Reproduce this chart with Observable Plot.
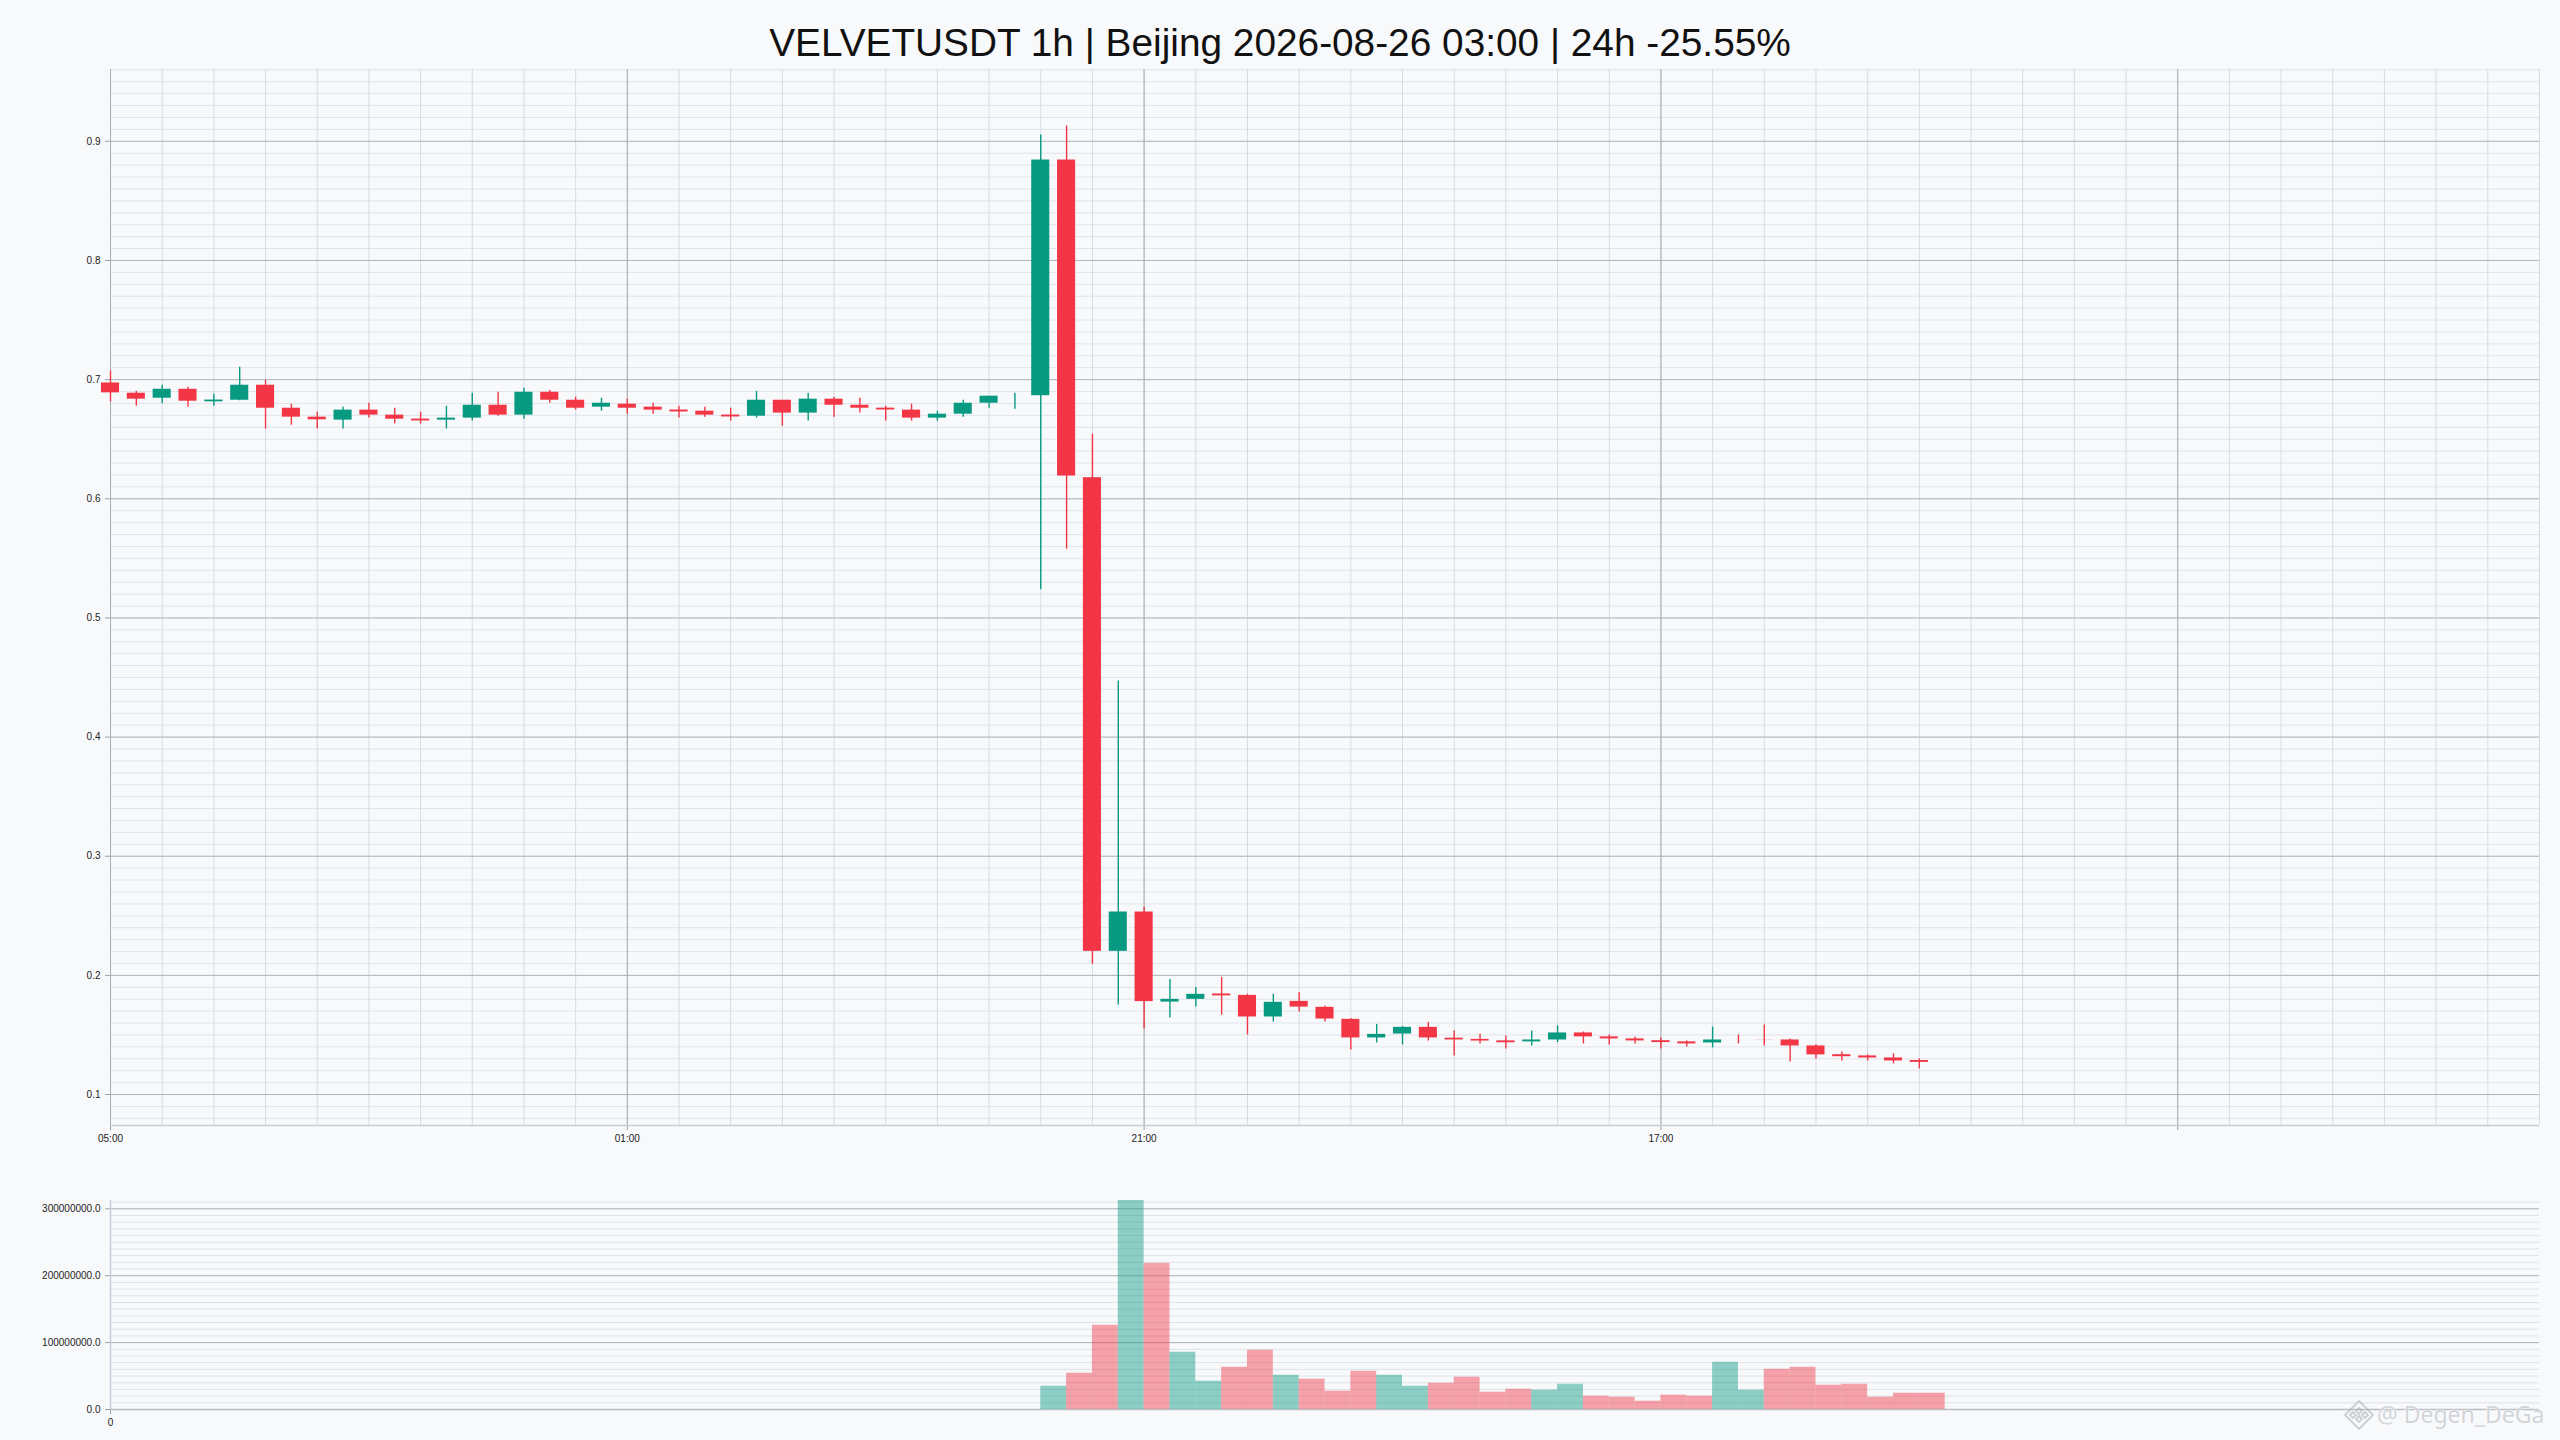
<!DOCTYPE html>
<html>
<head>
<meta charset="utf-8">
<script src="https://cdn.jsdelivr.net/npm/d3@7"></script>
<script src="https://cdn.jsdelivr.net/npm/@observablehq/plot@0.6"></script>
<style>
  html, body { margin: 0; padding: 0; background: #f8f9fb; }
  #wrap { position: relative; width: 2560px; height: 1440px; overflow: hidden; background: #f8f9fb; font-family: "Liberation Sans", Arial, sans-serif; }
  #title { position: absolute; left: 0; top: 24px; width: 2560px; text-align: center; font-size: 38.8px; line-height: 38px; color: #111; z-index: 2; }
  #main { position: absolute; left: 0; top: 59px; }
  #vol { position: absolute; left: 0; top: 1160px; }
  #wm { position: absolute; left: 2377px; top: 1403px; font-family: "Noto Sans", "Open Sans", sans-serif; font-size: 23px; line-height: 23px; color: rgba(170,176,184,0.55); text-shadow: 0 0 1px #fff, 0 0 2px #fff; white-space: nowrap; z-index: 3; }
  #wmlogo { position: absolute; left: 2343px; top: 1399px; z-index: 3; }
</style>
</head>
<body>
<div id="wrap">
  <div id="title">VELVETUSDT 1h | Beijing 2026-08-26 03:00 | 24h -25.55%</div>
  <div id="main"></div>
  <div id="vol"></div>
  <svg id="wmlogo" width="32" height="32" viewBox="0 0 32 32">
    <g fill="none" stroke="rgba(170,176,184,0.6)" stroke-width="1.8">
      <path d="M16 2 L30 16 L16 30 L2 16 Z"/>
      <path d="M16 9 L19 12 L16 15 L13 12 Z"/>
      <path d="M16 17 L19 20 L16 23 L13 20 Z"/>
      <path d="M10 13 L13 16 L10 19 L7 16 Z"/>
      <path d="M22 13 L25 16 L22 19 L19 16 Z"/>
    </g>
  </svg>
  <div id="wm">@ Degen_DeGa</div>
</div>
<script>
// ---- data (hourly candles, Beijing time, first candle 2026-08-23 05:00) ----
const opens = [
  0.6972,0.6886,0.6844,0.6919,0.6822,0.6827,0.6953,0.6760,0.6685,0.6660,
  0.6744,0.6702,0.6668,0.6660,0.6677,0.6785,0.6702,0.6894,0.6827,0.6769,
  0.6794,0.6769,0.6744,0.6735,0.6702,0.6693,0.6827,0.6719,0.6836,0.6785,
  0.6760,0.6744,0.6677,0.6710,0.6802,0.6861,0.6865,0.8843,0.6177,0.2202,
  0.2532,0.1776,0.1799,0.1843,0.1832,0.1651,0.1782,0.1732,0.1631,0.1475,
  0.1508,0.1564,0.1472,0.1463,0.1449,0.1442,0.1458,0.1517,0.1484,0.1467,
  0.1450,0.1442,0.1433,0.1460,0.1461,0.1458,0.1408,0.1333,0.1324,0.1307,
  0.1285
];
const highs = [
  0.7072,0.6902,0.6953,0.6936,0.6877,0.7103,0.6994,0.6794,0.6727,0.6769,
  0.6802,0.6760,0.6727,0.6777,0.6886,0.6894,0.6928,0.6908,0.6852,0.6844,
  0.6836,0.6802,0.6777,0.6769,0.6760,0.6902,0.6827,0.6886,0.6852,0.6844,
  0.6777,0.6794,0.6735,0.6827,0.6861,0.6886,0.9054,0.9128,0.6541,0.4470,
  0.2571,0.1966,0.1899,0.1983,0.1841,0.1841,0.1857,0.1740,0.1639,0.1589,
  0.1572,0.1606,0.1533,0.1505,0.1492,0.1534,0.1576,0.1525,0.1500,0.1484,
  0.1475,0.1450,0.1567,0.1500,0.1584,0.1467,0.1417,0.1358,0.1333,0.1341,
  0.1299
];
const lows = [
  0.6813,0.6777,0.6797,0.6769,0.6777,0.6822,0.6585,0.6618,0.6585,0.6585,
  0.6677,0.6627,0.6627,0.6585,0.6652,0.6693,0.6668,0.6802,0.6744,0.6735,
  0.6710,0.6710,0.6677,0.6685,0.6652,0.6677,0.6610,0.6652,0.6685,0.6719,
  0.6652,0.6652,0.6652,0.6685,0.6760,0.6752,0.5237,0.5577,0.2094,0.1751,
  0.1550,0.1642,0.1734,0.1667,0.1500,0.1609,0.1693,0.1609,0.1374,0.1433,
  0.1416,0.1449,0.1324,0.1424,0.1383,0.1408,0.1436,0.1425,0.1416,0.1425,
  0.1383,0.1400,0.1391,0.1425,0.1408,0.1274,0.1299,0.1281,0.1282,0.1257,
  0.1215
];
const closes = [
  0.6889,0.6836,0.6919,0.6819,0.6827,0.6953,0.6760,0.6685,0.6663,0.6744,
  0.6702,0.6668,0.6660,0.6677,0.6785,0.6702,0.6894,0.6827,0.6760,0.6802,
  0.6760,0.6744,0.6735,0.6702,0.6693,0.6827,0.6719,0.6836,0.6785,0.6760,
  0.6752,0.6677,0.6710,0.6802,0.6861,0.68612,0.8843,0.6191,0.2202,0.2532,
  0.1780,0.1799,0.1841,0.1835,0.1651,0.1774,0.1734,0.1634,0.1475,0.1505,
  0.1564,0.1475,0.1466,0.1449,0.1442,0.1458,0.1517,0.1484,0.1467,0.1450,
  0.1444,0.1425,0.1458,0.1460,0.1460,0.1408,0.1333,0.1324,0.1307,0.1282,
  0.1277
];
const volumes = [
  null,null,null,null,null,null,null,null,null,null,
  null,null,null,null,null,null,null,null,null,null,
  null,null,null,null,null,null,null,null,null,null,
  null,null,null,null,null,null,
  34800000,54200000,125900000,312400000,218400000,85600000,42300000,63200000,88600000,51200000,
  45300000,27400000,57200000,51200000,34800000,39300000,48300000,25900000,30300000,28900000,
  37800000,19900000,18400000,12400000,21400000,19900000,70600000,28900000,60200000,63200000,
  36300000,37800000,18400000,24400000,24400000
];

// ---- ticks / labels ----
const priceTicks = [0.1, 0.2, 0.3, 0.4, 0.5, 0.6, 0.7, 0.8, 0.9];
const priceTickLabels = ["0.1", "0.2", "0.3", "0.4", "0.5", "0.6", "0.7", "0.8", "0.9"];
const xTickHours = [0, 20, 40, 60, 80];            // hours after first candle
const xTickLabels = ["05:00", "01:00", "21:00", "17:00", ""];
const volTicks = [0, 100000000, 200000000, 300000000];
const volTickLabels = ["0.0", "100000000.0", "200000000.0", "300000000.0"];
const volXTickLabels = ["0"];

// ---- build ----
const GREEN = "#089981", RED = "#f23645";
const HOUR = 3600e3;
const start = Date.UTC(2026, 7, 23, 5); // Beijing wall-clock time treated as UTC
const times = opens.map((_, i) => new Date(start + i * HOUR));
const rows = times.map((t, i) => ({
  t, o: opens[i], h: highs[i], l: lows[i], c: closes[i], v: volumes[i],
  up: closes[i] > opens[i],
  vup: i > 0 ? closes[i] > closes[i - 1] : closes[i] > opens[i]
}));

const xDomain = [times[0], new Date(+times[times.length - 1] + 24 * HOUR)];
const lo = d3.min(lows), hi = d3.max(highs), pad = (hi - lo) * 0.06;
const yDomain = [lo - pad, hi + pad];
const minorY = d3.range(Math.ceil(yDomain[0] * 100), Math.floor(yDomain[1] * 100) + 1).map(k => k / 100);
const totalHours = (xDomain[1] - xDomain[0]) / HOUR;
const minorX = d3.range(0, totalHours + 0.001, 2).map(h => new Date(start + h * HOUR));
const majorX = xTickHours.map(h => new Date(start + h * HOUR));
const xLabelOf = new Map(majorX.map((d, i) => [+d, xTickLabels[i]]));
const priceLabelOf = new Map(priceTicks.map((d, i) => [d.toFixed(2), priceTickLabels[i]]));
const volLabelOf = new Map(volTicks.map((d, i) => [d, volTickLabels[i]]));

const fontStyle = { background: "transparent", fontFamily: "'Liberation Sans', Arial, sans-serif", fontSize: "10px", color: "#222" };
const halfBody = 0.35 * HOUR;

const main = Plot.plot({
  width: 2560, height: 1101,
  marginTop: 10, marginBottom: 35, marginLeft: 110, marginRight: 21,
  style: fontStyle,
  x: { type: "utc", domain: xDomain, ticks: majorX, tickFormat: d => xLabelOf.get(+d) ?? "", tickSize: 5, label: null },
  y: { type: "linear", domain: yDomain, ticks: priceTicks, tickFormat: d => priceLabelOf.get(d.toFixed(2)) ?? "", tickSize: 5, tickPadding: 5, label: null },
  color: { type: "identity" },
  marks: [
    Plot.ruleY(minorY, { stroke: "#dfe4eb", strokeWidth: 1 }),
    Plot.ruleX(minorX, { stroke: "#d5dce5", strokeWidth: 1 }),
    Plot.ruleY(priceTicks, { stroke: "#b2b5ba", strokeWidth: 1 }),
    Plot.ruleX(majorX, { stroke: "#a9acb1", strokeWidth: 1 }),
    Plot.ruleY([yDomain[0]], { stroke: "#c6cdd7", strokeWidth: 1.5 }),
    Plot.ruleX(rows, { x: "t", y1: "l", y2: "h", stroke: d => d.up ? GREEN : RED, strokeWidth: 1.4 }),
    Plot.rect(rows, {
      x1: d => new Date(+d.t - halfBody), x2: d => new Date(+d.t + halfBody),
      y1: "o", y2: "c", fill: d => d.up ? GREEN : RED
    }),
    Plot.ruleY(rows.filter(d => Math.abs(d.o - d.c) > 0.0002 && Math.abs(d.o - d.c) < 0.0012), {
      x1: d => new Date(+d.t - halfBody), x2: d => new Date(+d.t + halfBody),
      y: d => (d.o + d.c) / 2, stroke: d => d.up ? GREEN : RED, strokeWidth: 1.6
    })
  ]
});
document.getElementById("main").appendChild(main);

const vMax = d3.max(volumes);
const minorV = d3.range(0, Math.floor(vMax / 1e7) + 1).map(k => k * 1e7);
const volRows = rows.filter(d => d.v != null);
const vol = Plot.plot({
  width: 2560, height: 280,
  marginTop: 40, marginBottom: 31, marginLeft: 110, marginRight: 21,
  style: fontStyle,
  x: { type: "utc", domain: xDomain, ticks: [times[0]], tickFormat: () => volXTickLabels[0], tickSize: 5, label: null },
  y: { type: "linear", domain: [0, vMax], ticks: volTicks, tickFormat: d => volLabelOf.get(d) ?? "", tickSize: 5, tickPadding: 5, label: null },
  color: { type: "identity" },
  marks: [
    Plot.ruleY(minorV, { stroke: "#dde2e8", strokeWidth: 1 }),
    Plot.ruleY(volTicks, { stroke: "#b2b5ba", strokeWidth: 1 }),
    Plot.ruleX([xDomain[0]], { stroke: "#c6cdd7", strokeWidth: 1.5 }),
    Plot.ruleY([0], { stroke: "#b8bcc4", strokeWidth: 1.5 }),
    Plot.rect(volRows, {
      x1: "t", x2: d => new Date(+d.t + HOUR), y1: 0, y2: "v",
      fill: d => d.vup ? GREEN : RED, fillOpacity: 0.45
    })
  ]
});
document.getElementById("vol").appendChild(vol);

// soften axis tick lines to grey
for (const svg of [main, vol]) {
  svg.querySelectorAll('g[aria-label$="axis tick"]').forEach(g => g.setAttribute("stroke", "#9aa0a8"));
  svg.querySelectorAll('g.tick line').forEach(l => l.setAttribute("stroke", "#9aa0a8"));
}
</script>
</body>
</html>
